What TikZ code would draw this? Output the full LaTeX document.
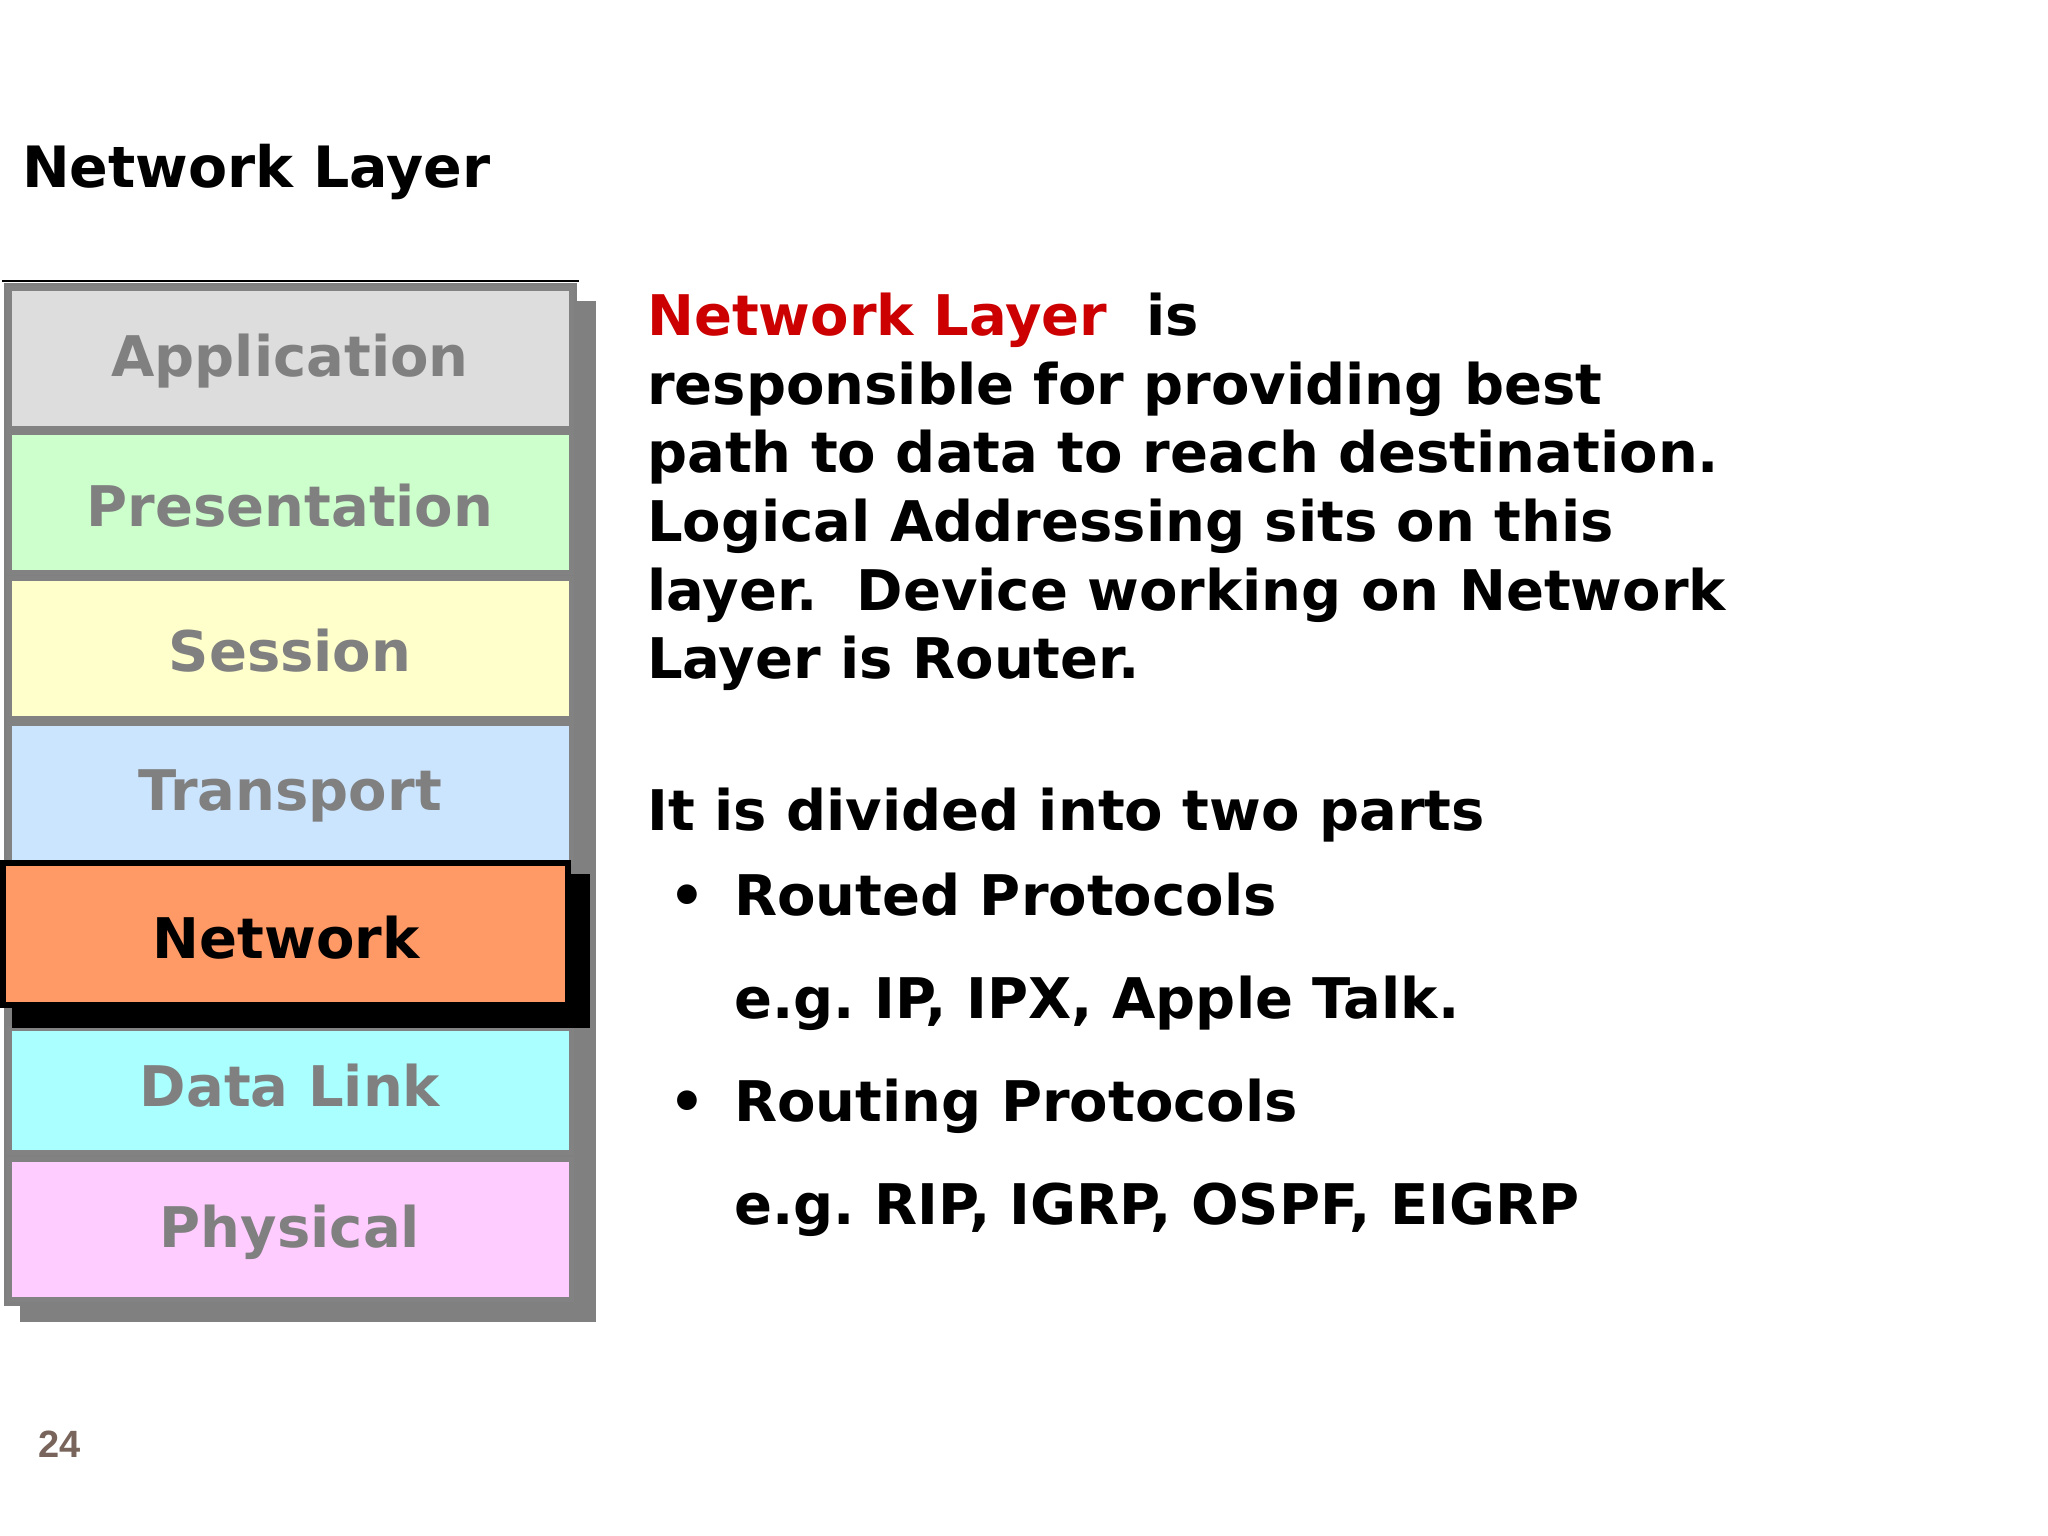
\documentclass[tikz,border=0pt]{standalone}
\usepackage{fontspec}
\setmainfont{DejaVu Sans}
\newfontfamily\arialf{Liberation Sans}
\frenchspacing
\begin{document}
\begin{tikzpicture}[x=1pt,y=-1pt,
  lay/.style={draw=gray!60!black!70,line width=5pt},
  laytxt/.style={font=\fontsize{56}{60}\selectfont\bfseries,text=black!50},
  body/.style={anchor=base west,inner sep=0pt,font=\fontsize{56}{60}\selectfont\bfseries}]
\useasboundingbox[fill=white] (0,0) rectangle (2048,1536);
\definecolor{sh}{RGB}{128,128,128}
\definecolor{red1}{RGB}{204,0,0}
\node[body,font=\fontsize{57}{60}\selectfont\bfseries] (title) at (22,187) {Network Layer};
% stack
\fill[sh] (20,301) rectangle (596,1322);
\fill[sh] (4,283) rectangle (577,1306);
\draw[line width=2.5pt] (2,281) -- (579,281);
\draw[lay,fill={rgb,255:red,221;green,221;blue,221}] (9,288) rectangle (571,428);
\draw[lay,fill={rgb,255:red,204;green,255;blue,204}] (9,432) rectangle (571,572);
\draw[lay,fill={rgb,255:red,255;green,255;blue,204}] (9,578) rectangle (571,718);
\draw[lay,fill={rgb,255:red,204;green,229;blue,255}] (9,723) rectangle (571,862);
\draw[lay,fill={rgb,255:red,170;green,255;blue,255}] (9,1028) rectangle (571,1152);
\draw[lay,fill={rgb,255:red,255;green,204;blue,255}] (9,1159) rectangle (571,1299);
\fill[black] (12,874) rectangle (590,1028);
\draw[line width=6pt,fill={rgb,255:red,255;green,153;blue,102}] (3,863) rectangle (568,1005);
\node[laytxt] (app) at (290,361) {Application};
\node[laytxt] (pre) at (290,506) {Presentation};
\node[laytxt] (ses) at (290,651) {Session};
\node[laytxt] (tra) at (290,796) {Transport};
\node[laytxt,text=black] (net) at (286,938) {Network};
\node[laytxt] (dl) at (290,1086) {Data Link};
\node[laytxt] (phy) at (290,1232) {Physical};
% text
\node[body] (l1) at (647,335) {\textcolor{red1}{Network Layer}\ \ is};
\node[body] (l2) at (647,404) {responsible for providing best};
\node[body] (l3) at (647,472) {path to data to reach destination.};
\node[body] (l4) at (647,541) {Logical Addressing sits on this};
\node[body] (l5) at (647,610) {layer.\ \ Device working on Network};
\node[body] (l6) at (647,678) {Layer is Router.};
\node[body] (l7) at (647,830) {It is divided into two parts};
\node[body] (b1) at (669,915) {•};
\node[body] (r1) at (734,915) {Routed Protocols};
\node[body] (e1) at (734,1018) {e.g. IP, IPX, Apple Talk.};
\node[body] (b2) at (669,1121) {•};
\node[body] (r2) at (734,1121) {Routing Protocols};
\node[body] (e2) at (734,1224) {e.g. RIP, IGRP, OSPF, EIGRP};
\node[body,font=\arialf\fontsize{38}{40}\selectfont\bfseries,text={rgb,255:red,120;green,100;blue,90}] (pg) at (38,1457) {24};
\end{tikzpicture}
\end{document}
